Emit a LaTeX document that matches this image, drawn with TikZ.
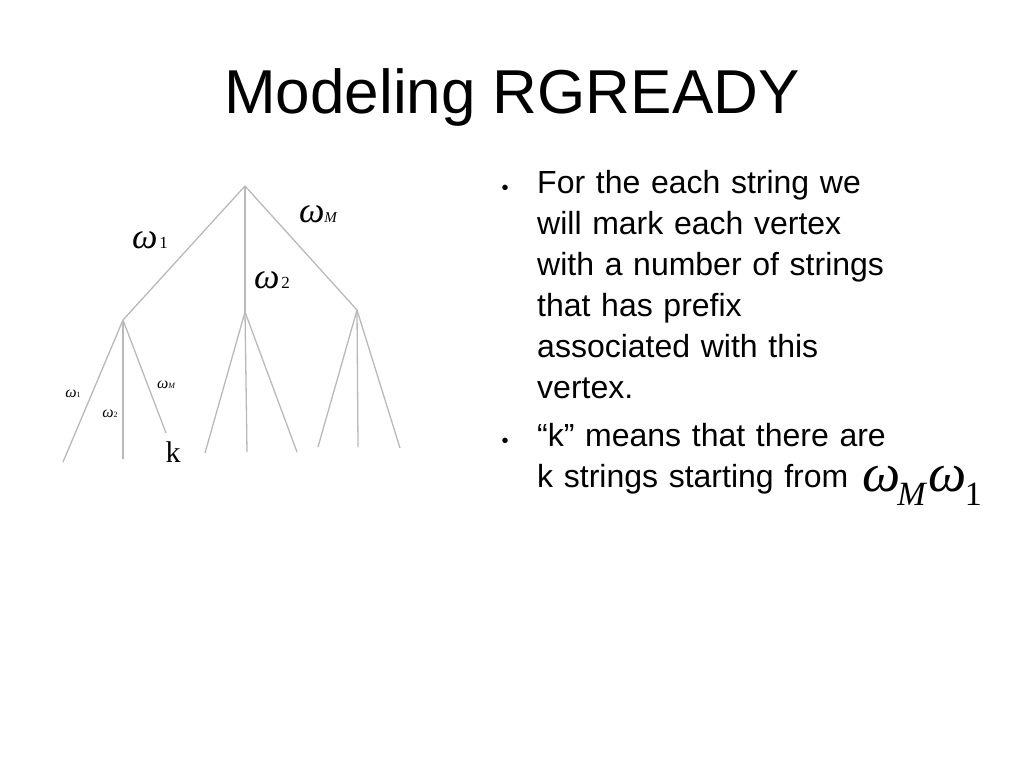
\documentclass[tikz,border=0pt]{standalone}
\usepackage{fontspec}
\setmainfont{Liberation Sans}
\newfontfamily\tms{Liberation Serif}
\begin{document}
\begin{tikzpicture}[x=1pt,y=-1pt,
  br/.style={draw=gray!55,line width=1.3pt},
  lab/.style={font=\tms\itshape,inner sep=0pt},
  txt/.style={anchor=north west,align=left,font=\fontsize{32}{41}\selectfont,inner sep=0pt,text width=480pt}]
\useasboundingbox (0,0) rectangle (1024,768);
\node (title) at (512,97) {\fontsize{62}{66}\selectfont Modeling RGREADY};
\coordinate (r) at (245,186);
\coordinate (a) at (123,320);\coordinate (b) at (245,312);\coordinate (c) at (357,310);
\coordinate (a1) at (63,462);\coordinate (a2) at (123,459);\coordinate (a3) at (166,433);
\coordinate (b1) at (205,453);\coordinate (b2) at (247,452);\coordinate (b3) at (297,452);
\coordinate (c1) at (318,447);\coordinate (c2) at (358,447);\coordinate (c3) at (400,448);
\foreach \p/\q in {r/a,r/b,r/c,a/a1,a/a2,a/a3,b/b1,b/b2,b/b3,c/c1,c/c2,c/c3}
  \draw[br] (\p) -- (\q);
\node[lab] (l1) at (150,240) {\fontsize{36}{36}\selectfont ω\kern2pt\upshape\fontsize{17}{17}\selectfont 1};
\node[lab] (l2) at (272,280) {\fontsize{36}{36}\selectfont ω\kern2pt\upshape\fontsize{17}{17}\selectfont 2};
\node[lab] (lM) at (318,214) {\fontsize{36}{36}\selectfont ω\fontsize{15}{15}\selectfont M};
\node[lab] (s1) at (73,394) {\fontsize{16}{16}\selectfont ω\upshape\fontsize{8}{8}\selectfont 1};
\node[lab] (s2) at (110,414) {\fontsize{16}{16}\selectfont ω\upshape\fontsize{8}{8}\selectfont 2};
\node[lab] (sM) at (166,385) {\fontsize{16}{16}\selectfont ω\fontsize{8}{8}\selectfont M};
\node[inner sep=0pt,font=\tms] (k) at (173,452) {\fontsize{30}{30}\selectfont k};
\node[inner sep=0pt] (d1) at (505,190) {\fontsize{20}{20}\selectfont •};
\node[txt] (t1) at (537,170) {For the each string we\\will mark each vertex\\with a number of strings\\that has prefix\\associated with this\\vertex.};
\node[inner sep=0pt] (d2) at (505,443) {\fontsize{20}{20}\selectfont •};
\node[txt] (t2) at (537,423) {“k” means that there are\\k strings starting from};
\node[anchor=west,inner sep=0pt,font=\tms\itshape] (om) at (862,486) {\fontsize{54}{54}\selectfont ω\kern-3pt\raisebox{-14pt}{\fontsize{34}{34}\selectfont M}\kern3pt ω\kern-2pt\raisebox{-14pt}{\upshape\fontsize{34}{34}\selectfont 1}};
\end{tikzpicture}
\end{document}
